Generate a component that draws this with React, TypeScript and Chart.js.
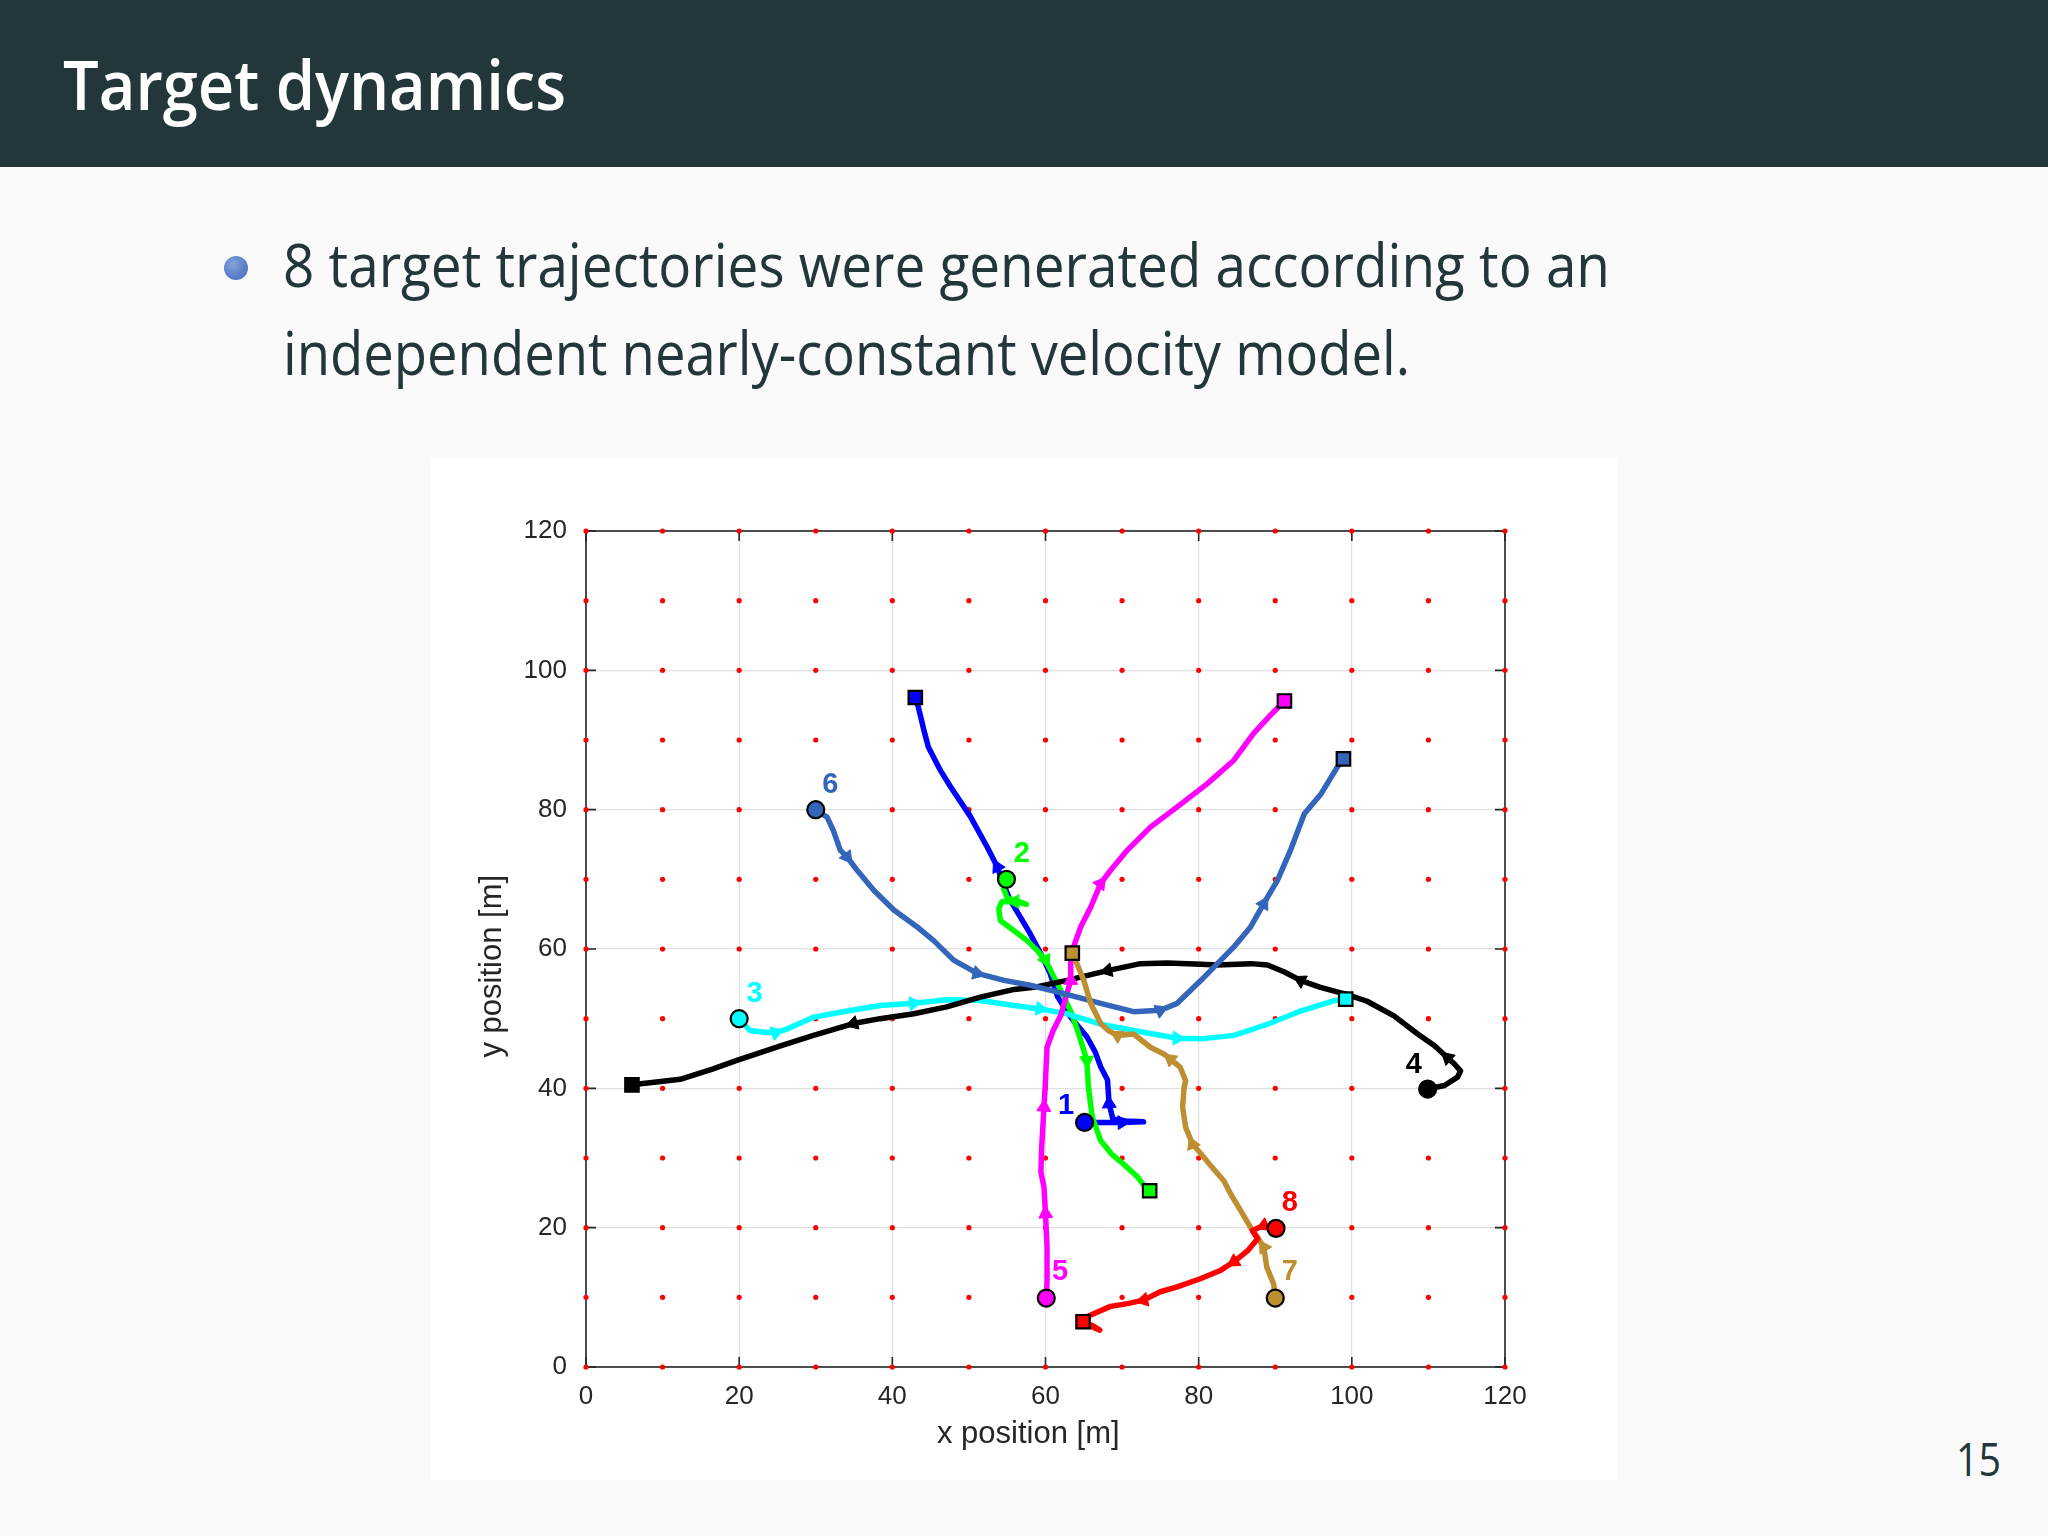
import React, { useEffect, useLayoutEffect, useRef } from 'react';
import { Chart, registerables } from 'chart.js';

Chart.register(...registerables);

// ---------- chart values ----------
const AXIS_TICKS = [0, 20, 40, 60, 80, 100, 120];
const SENSOR_COORDS = [0, 10, 20, 30, 40, 50, 60, 70, 80, 90, 100, 110, 120];

// target 1 (blue)
const t1X = [65.1, 67.5, 70, 72.8, 70.5, 68.8, 68.3, 68.1, 67.2, 66.5, 65.4, 63.3, 61.6, 60.6, 59.4, 58, 56.7, 55.4, 54.4, 53.7, 52.4, 50.2, 47.6, 46.3, 44.7, 44.1, 43.4, 43];
const t1Y = [35.1, 35.1, 35.1, 35.2, 35.3, 35.6, 37.8, 41.2, 43.1, 45.2, 47.4, 50.2, 53.1, 56.5, 59.3, 62.2, 64.6, 67, 69.6, 71.8, 74.6, 79, 83.3, 85.6, 89, 91.5, 94.7, 96.1];
const t1Arrows = [2, 6, 19];
// target 2 (green)
const t2X = [54.9, 54.5, 55, 56.3, 57.5, 56, 54.3, 53.9, 54.1, 55.8, 57.6, 58.9, 60, 61.1, 62.2, 63.4, 64.4, 65.4, 65.6, 66.1, 67.2, 68.6, 70, 72, 72.9, 73.6];
const t2Y = [70, 68.8, 67.3, 66.9, 66.4, 66.8, 66.8, 65.8, 64.1, 62.7, 61.2, 59.8, 58.4, 56, 53.6, 50.8, 47.6, 44, 40.2, 35.9, 32.5, 30.6, 29.3, 27.3, 26, 25.3];
const t2Arrows = [5, 12, 17];
// target 3 (cyan)
const t3X = [20, 21.4, 23.6, 24.8, 26.2, 29.7, 34.1, 38.4, 42.8, 47.1, 51.5, 55.9, 59.3, 62.8, 67.2, 71.5, 77.2, 80.3, 84.6, 89, 93.3, 97.7, 99.2];
const t3Y = [50, 48.3, 48, 48, 48.5, 50.2, 51.1, 51.9, 52.2, 52.7, 52.6, 51.9, 51.4, 50.7, 49.2, 48.3, 47.2, 47.1, 47.6, 49.2, 51.1, 52.6, 52.8];
const t3Arrows = [3, 8, 12, 16];
// target 4 (black)
const t4X = [109.9, 112.1, 113.8, 114.2, 113.4, 112.5, 110.8, 108.6, 105.5, 102, 99.3, 95.9, 93.3, 91.2, 89, 86.8, 82.4, 80.3, 75.9, 72.4, 68.1, 62.8, 58.5, 55.9, 51.5, 47.1, 42.8, 38.4, 34.9, 29.7, 25.4, 19.7, 16.6, 12.3, 9.2, 6];
const t4Y = [39.9, 40.4, 41.6, 42.5, 43.5, 44.4, 46.1, 47.8, 50.4, 52.5, 53.5, 54.5, 55.5, 56.7, 57.7, 57.9, 57.7, 57.8, 58, 57.9, 56.9, 55.5, 54.5, 54.2, 53.1, 51.7, 50.7, 50, 49.3, 47.6, 46.1, 44, 42.8, 41.3, 40.9, 40.5];
const t4Arrows = [5, 12, 20, 28];
// target 5 (magenta)
const t5X = [60.1, 60.2, 60.2, 60, 59.8, 59.4, 59.5, 59.8, 60, 60.2, 61, 62, 62.8, 63.3, 63.3, 63.5, 64.6, 65.9, 67.2, 68.5, 70.7, 73.7, 77.2, 81.1, 84.6, 87.2, 89.5, 91.2];
const t5Y = [9.9, 12.4, 17.2, 22, 25.8, 28, 31.5, 37.3, 41.1, 45.9, 48.3, 50.5, 53.6, 55.5, 58.4, 59.8, 63.2, 66, 69.4, 71.3, 74.2, 77.5, 80.4, 83.7, 87.1, 91, 93.7, 95.6];
const t5Arrows = [3, 7, 13, 18];
// target 6 (steel blue)
const t6X = [30, 31.5, 32.3, 33.2, 34.1, 35.4, 37.6, 40.2, 43.2, 45.4, 48, 51.1, 54.6, 58, 62.4, 67.2, 71.5, 75, 77.2, 80.3, 84.6, 86.8, 88.5, 90.3, 92, 93.8, 96, 98.1, 98.9];
const t6Y = [80, 78.9, 77, 74.2, 73.2, 71.3, 68.4, 65.6, 63.2, 61.2, 58.4, 56.5, 55.5, 54.8, 53.6, 52.2, 51, 51.2, 52.2, 55.5, 60.3, 63.2, 66.5, 69.9, 74.2, 79.4, 82.3, 86.1, 87.3];
const t6Arrows = [4, 11, 17, 22];
// target 7 (gold)
const t7X = [90, 89.8, 88.9, 88.5, 87.7, 86.8, 85.5, 84.2, 83.3, 81.5, 80.3, 79.2, 78.3, 77.9, 78.1, 78.3, 77.6, 76.3, 75.5, 73.7, 71.5, 69.4, 68.2, 67.2, 65.9, 65, 64.1, 63.5];
const t7Y = [9.9, 11.9, 14.3, 17.2, 18.6, 20, 22.4, 24.8, 26.7, 29, 30.6, 32, 34.4, 37.3, 40.1, 41.1, 43, 44.2, 44.9, 45.9, 47.8, 47.6, 48.3, 49.3, 52.2, 55.5, 57.9, 59.4];
const t7Arrows = [3, 11, 17, 21];
// target 8 (red)
const t8X = [90.1, 88.5, 87, 87.7, 86.4, 84.6, 82.9, 80.3, 77.2, 75, 72.8, 70.7, 68.5, 66.8, 65.4, 65.3, 66.2, 67.1, 66.2, 64.9];
const t8Y = [19.9, 20.3, 19.6, 18.4, 16.7, 15.1, 13.9, 12.7, 11.5, 10.8, 9.6, 9.1, 8.7, 7.9, 7.2, 6.2, 5.7, 5.3, 5.9, 6.5];
const t8Arrows = [1, 5, 10];

const TRACK_COLORS = ['#0000FF', '#00FF00', '#00FFFF', '#000000', '#FF00FF', '#3366BB', '#BE8F32', '#FF0000'];
const LABEL_TEXT = ['1', '2', '3', '4', '5', '6', '7', '8'];
const LABEL_X = [62.7, 56.9, 22, 108.1, 61.9, 31.9, 91.9, 91.9];
const LABEL_Y = [37.5, 73.7, 53.6, 43.3, 13.7, 83.6, 13.7, 23.6];

const TRACKS = [
  { xs: t1X, ys: t1Y, arrows: t1Arrows },
  { xs: t2X, ys: t2Y, arrows: t2Arrows },
  { xs: t3X, ys: t3Y, arrows: t3Arrows },
  { xs: t4X, ys: t4Y, arrows: t4Arrows },
  { xs: t5X, ys: t5Y, arrows: t5Arrows },
  { xs: t6X, ys: t6Y, arrows: t6Arrows },
  { xs: t7X, ys: t7Y, arrows: t7Arrows },
  { xs: t8X, ys: t8Y, arrows: t8Arrows },
];

const AXIS_FONT = '"Liberation Sans", Arial, Helvetica, sans-serif';
const AXIS_COLOR = '#262626';

const boxPlugin = {
  id: 'axesBox',
  beforeDatasetsDraw(chart: any) {
    const { ctx, chartArea: a, scales } = chart;
    const x = scales.x;
    const y = scales.y;
    ctx.save();
    ctx.strokeStyle = AXIS_COLOR;
    ctx.lineWidth = 1.6;
    ctx.strokeRect(a.left, a.top, a.right - a.left, a.bottom - a.top);
    const L = 10;
    ctx.beginPath();
    AXIS_TICKS.forEach((v) => {
      const px = x.getPixelForValue(v);
      ctx.moveTo(px, a.bottom);
      ctx.lineTo(px, a.bottom - L);
      ctx.moveTo(px, a.top);
      ctx.lineTo(px, a.top + L);
      const py = y.getPixelForValue(v);
      ctx.moveTo(a.left, py);
      ctx.lineTo(a.left + L, py);
      ctx.moveTo(a.right, py);
      ctx.lineTo(a.right - L, py);
    });
    ctx.stroke();
    ctx.restore();
  },
};

const labelPlugin = {
  id: 'trackLabels',
  afterDatasetsDraw(chart: any) {
    const { ctx, scales } = chart;
    ctx.save();
    ctx.font = `bold 29px ${AXIS_FONT}`;
    ctx.textAlign = 'center';
    ctx.textBaseline = 'middle';
    LABEL_TEXT.forEach((t, i) => {
      ctx.fillStyle = TRACK_COLORS[i];
      ctx.fillText(t, scales.x.getPixelForValue(LABEL_X[i]), scales.y.getPixelForValue(LABEL_Y[i]));
    });
    ctx.restore();
  },
};

function buildDatasets() {
  const sets: any[] = [];
  const sensors: { x: number; y: number }[] = [];
  SENSOR_COORDS.forEach((sx) => SENSOR_COORDS.forEach((sy) => sensors.push({ x: sx, y: sy })));
  sets.push({
    data: sensors,
    pointRadius: 2.6,
    pointBackgroundColor: '#FF0000',
    pointBorderWidth: 0,
    showLine: false,
    order: 100,
    clip: false,
  });

  TRACKS.forEach((tr, k) => {
    const color = TRACK_COLORS[k];
    const pts = tr.xs.map((xv, i) => ({ x: xv, y: tr.ys[i] }));
    sets.push({
      data: pts,
      showLine: true,
      borderColor: color,
      borderWidth: 5.5,
      borderJoinStyle: 'round',
      borderCapStyle: 'round',
      tension: 0,
      pointStyle: 'triangle',
      pointRadius: (c: any) => (tr.arrows.includes(c.dataIndex) ? 8 : 0),
      pointBackgroundColor: color,
      pointBorderColor: color,
      pointBorderWidth: 1,
      pointRotation: (c: any) => {
        const sc = c.chart.scales;
        const i = c.dataIndex;
        if (!sc || !sc.x || !sc.y || i === undefined) return 0;
        const a = pts[i];
        const b = pts[Math.min(i + 1, pts.length - 1)];
        const dx = sc.x.getPixelForValue(b.x) - sc.x.getPixelForValue(a.x);
        const dy = sc.y.getPixelForValue(b.y) - sc.y.getPixelForValue(a.y);
        return (Math.atan2(dx, -dy) * 180) / Math.PI;
      },
      order: 50 - k,
    });
    sets.push({
      data: [pts[0]],
      showLine: false,
      pointStyle: 'circle',
      pointRadius: 8.5,
      pointBackgroundColor: color,
      pointBorderColor: '#000000',
      pointBorderWidth: 2.2,
      order: 10 - k,
    });
    sets.push({
      data: [pts[pts.length - 1]],
      showLine: false,
      pointStyle: 'rect',
      pointRadius: 9.5,
      pointBackgroundColor: color,
      pointBorderColor: '#000000',
      pointBorderWidth: 2.2,
      order: 10 - k,
    });
  });
  return sets;
}

function axisOptions(isX: boolean) {
  return {
    type: 'linear',
    min: 0,
    max: 120,
    afterFit: (s: any) => {
      if (isX) s.height = 113;
      else s.width = 155;
    },
    ticks: {
      stepSize: 20,
      padding: isX ? 14 : 19,
      color: AXIS_COLOR,
      font: { family: AXIS_FONT, size: 26 },
    },
    grid: { color: 'rgba(38,38,38,0.14)', lineWidth: 1.2, drawTicks: false },
    border: { display: false },
    title: {
      display: true,
      text: isX ? 'x position [m]    ' : 'y position [m]    ',
      color: AXIS_COLOR,
      font: { family: AXIS_FONT, size: 31 },
      padding: isX ? { top: 0, bottom: 27 } : { top: 43, bottom: 0 },
    },
  };
}

function FitText(props: {
  text: string;
  left: number;
  baseline: number;
  width: number;
  size: number;
  weight: number;
  color: string;
}) {
  const ref = useRef<HTMLDivElement>(null);
  useLayoutEffect(() => {
    const fit = () => {
      const el = ref.current;
      if (!el) return;
      el.style.transform = 'none';
      const w = el.getBoundingClientRect().width;
      if (w > 0) el.style.transform = `scaleX(${props.width / w})`;
    };
    fit();
    const fonts: any = (document as any).fonts;
    if (fonts && fonts.ready) fonts.ready.then(fit);
  });
  return (
    <div
      ref={ref}
      style={{
        position: 'absolute',
        left: props.left,
        top: props.baseline - props.size * 0.888,
        fontFamily: '"Open Sans", "Noto Sans", sans-serif',
        fontSize: props.size,
        fontWeight: props.weight,
        lineHeight: 1,
        color: props.color,
        whiteSpace: 'nowrap',
        transformOrigin: '0 0',
      }}
    >
      {props.text}
    </div>
  );
}

export default function App() {
  const canvasRef = useRef<HTMLCanvasElement>(null);

  useEffect(() => {
    if (!canvasRef.current) return;
    const chart = new Chart(canvasRef.current, {
      type: 'scatter',
      data: { datasets: buildDatasets() },
      options: {
        animation: false,
        responsive: false,
        devicePixelRatio: 1,
        events: [],
        layout: { padding: { top: 74, right: 112, bottom: 0, left: 0 } },
        plugins: { legend: { display: false }, tooltip: { enabled: false } },
        scales: { x: axisOptions(true) as any, y: axisOptions(false) as any },
      },
      plugins: [boxPlugin, labelPlugin],
    } as any);
    return () => chart.destroy();
  }, []);

  const dark = '#23373B';
  return (
    <div
      style={{
        position: 'fixed',
        left: 0,
        top: 0,
        width: 2048,
        height: 1536,
        background: '#FAFAFA',
        overflow: 'hidden',
      }}
    >
      <div style={{ position: 'absolute', left: 0, top: 0, width: 2048, height: 167, background: dark }} />
      <FitText text="Target dynamics" left={63} baseline={110} width={503} size={68} weight={600} color="#FFFFFF" />
      <div
        style={{
          position: 'absolute',
          left: 224,
          top: 256,
          width: 24,
          height: 24,
          borderRadius: '50%',
          background: 'radial-gradient(circle at 38% 35%, #86A2DC 0%, #5B80C8 55%, #4E70B8 100%)',
        }}
      />
      <FitText
        text="8 target trajectories were generated according to an"
        left={283}
        baseline={287}
        width={1327}
        size={60}
        weight={400}
        color={dark}
      />
      <FitText
        text="independent nearly-constant velocity model."
        left={283}
        baseline={375}
        width={1127}
        size={60}
        weight={400}
        color={dark}
      />
      <div style={{ position: 'absolute', left: 431, top: 457, width: 1186, height: 1023, background: '#FFFFFF' }} />
      <canvas
        ref={canvasRef}
        width={1186}
        height={1023}
        style={{ position: 'absolute', left: 431, top: 457, width: 1186, height: 1023 }}
      />
      <FitText text="15" left={1956} baseline={1476} width={45} size={46} weight={400} color={dark} />
    </div>
  );
}
